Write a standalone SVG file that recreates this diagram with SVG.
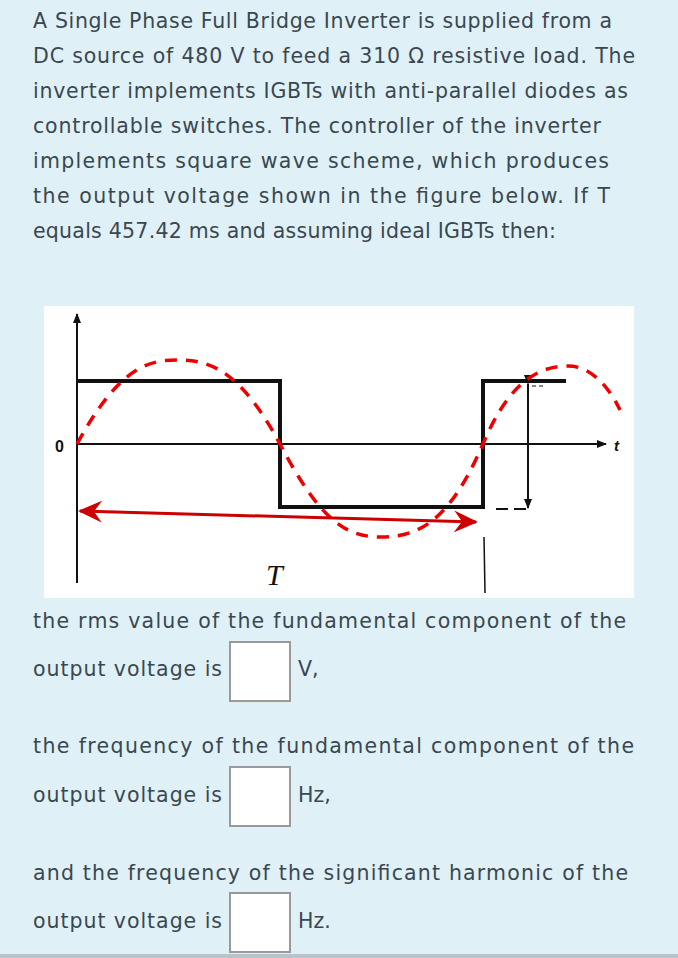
<svg xmlns="http://www.w3.org/2000/svg" width="678" height="958" viewBox="0 0 678 958">
<style>
.t{font-family:"DejaVu Sans","Liberation Sans",sans-serif;font-size:20.5px;fill:#3a4750}
.bk{stroke:#111;fill:none}
.box{fill:#fff;stroke:#999;stroke-width:2}
</style>
<defs>
<marker id="ah" markerWidth="10" markerHeight="8" refX="9" refY="4" orient="auto" markerUnits="userSpaceOnUse"><path d="M0,0 L10,4 L0,8 Z" fill="#111"/></marker>
<marker id="rh" markerWidth="26" markerHeight="22" refX="22" refY="11" orient="auto-start-reverse" markerUnits="userSpaceOnUse"><path d="M0,0 L24,11 L0,22 L8,11 Z" fill="#c00"/></marker>
</defs>
<rect width="678" height="958" fill="#dff1f7"/>
<rect x="0" y="954" width="678" height="4" fill="#b8c4cc"/>
<g id="question">
<text class="t" x="33" y="28" textLength="579" lengthAdjust="spacing">A Single Phase Full Bridge Inverter is supplied from a</text>
<text class="t" x="33" y="63" textLength="602" lengthAdjust="spacing">DC source of 480 V to feed a 310 Ω resistive load. The</text>
<text class="t" x="33" y="98" textLength="595" lengthAdjust="spacing">inverter implements IGBTs with anti-parallel diodes as</text>
<text class="t" x="33" y="133" textLength="568" lengthAdjust="spacing">controllable switches. The controller of the inverter</text>
<text class="t" x="33" y="168" textLength="576" lengthAdjust="spacing">implements square wave scheme, which produces</text>
<text class="t" x="33" y="203" textLength="577" lengthAdjust="spacing">the output voltage shown in the figure below. If T</text>
<text class="t" x="33" y="238" textLength="523" lengthAdjust="spacing">equals 457.42 ms and assuming ideal IGBTs then:</text>
</g>
<g id="figure">
<rect x="44" y="306" width="590" height="292" fill="#fff"/>
<line class="bk" x1="77" y1="583" x2="77" y2="314" stroke-width="2" marker-end="url(#ah)"/>
<line class="bk" x1="77" y1="444" x2="606" y2="444" stroke-width="2" marker-end="url(#ah)"/>
<text x="55" y="452" font-family="Liberation Sans,sans-serif" font-weight="bold" font-size="16" fill="#111">0</text>
<text x="614" y="451" font-family="Liberation Sans,sans-serif" font-weight="bold" font-style="italic" font-size="15" fill="#111">t</text>
<path class="bk" stroke-width="4" d="M77,381 H280 V507 H483 V381 H566"/>
<line class="bk" x1="528" y1="384" x2="528" y2="508" stroke-width="2" marker-start="url(#ah)" marker-end="url(#ah)"/>
<line class="bk" x1="532" y1="386" x2="546" y2="386" stroke-width="1" stroke-dasharray="4,3"/>
<line class="bk" x1="496" y1="509" x2="526" y2="509" stroke-width="2" stroke-dasharray="12,6"/>
<line class="bk" x1="484" y1="537" x2="485" y2="593" stroke-width="1.5"/>
<path d="M77,444 C120,365 150,360 178,360 C210,360 240,370 280,444 C320,520 345,537 381,537 C420,537 450,520 483,444 C510,380 540,366 568,366 C590,366 608,385 620,410" fill="none" stroke="#e00" stroke-width="3.5" stroke-dasharray="12,9"/>
<line x1="80" y1="511" x2="476" y2="522" stroke="#c00" stroke-width="3" marker-start="url(#rh)" marker-end="url(#rh)"/>
<text x="266" y="585" font-family="Liberation Serif,serif" font-style="italic" font-size="30" fill="#111">T</text>
</g>
<g id="answers">
<text class="t" x="33" y="628" textLength="593" lengthAdjust="spacing">the rms value of the fundamental component of the</text>
<text class="t" x="33" y="676" textLength="189" lengthAdjust="spacing">output voltage is</text>
<rect class="box" x="230" y="642" width="60" height="59"/>
<text class="t" x="298" y="676">V,</text>
<text class="t" x="33" y="753" textLength="601" lengthAdjust="spacing">the frequency of the fundamental component of the</text>
<text class="t" x="33" y="802" textLength="189" lengthAdjust="spacing">output voltage is</text>
<rect class="box" x="230" y="767" width="60" height="59"/>
<text class="t" x="298" y="802">Hz,</text>
<text class="t" x="33" y="880" textLength="595" lengthAdjust="spacing">and the frequency of the significant harmonic of the</text>
<text class="t" x="33" y="928" textLength="189" lengthAdjust="spacing">output voltage is</text>
<rect class="box" x="230" y="893" width="60" height="59"/>
<text class="t" x="298" y="928">Hz.</text>
</g>
</svg>
